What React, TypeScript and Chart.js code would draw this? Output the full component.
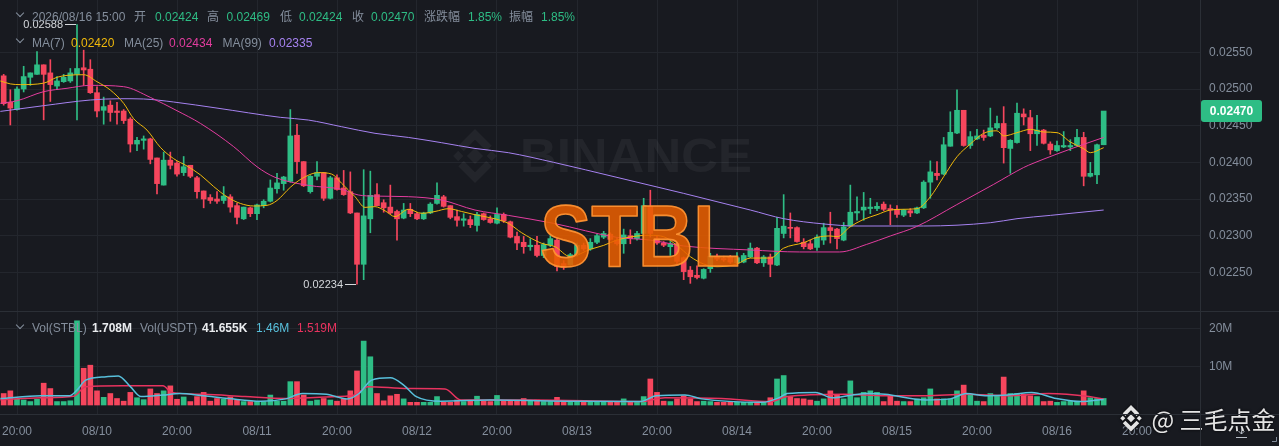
import React, { useEffect, useRef } from "react";
import { Chart, registerables } from "chart.js";

Chart.register(...registerables);

// Hourly candles. Hour index counted from 08/09 20:00 (index 0); first candle 08/09 18:00, last 08/16 15:00.
const FIRST_HOUR = -2;

// Prices in units of 0.00001
const open = [
  2518, 2482, 2472, 2500, 2516, 2520, 2533, 2522, 2504, 2510,
  2511, 2520, 2529, 2527, 2495, 2471, 2478, 2470, 2470, 2459,
  2425, 2430, 2432, 2406, 2369, 2403, 2399, 2386, 2396, 2379,
  2361, 2352, 2350, 2348, 2353, 2341, 2323, 2338, 2330, 2341,
  2347, 2364, 2371, 2374, 2437, 2401, 2360, 2381, 2386, 2351,
  2379, 2365, 2360, 2331, 2261, 2323, 2356, 2345, 2339, 2333,
  2324, 2336, 2330, 2323, 2331, 2344, 2353, 2341, 2326, 2321,
  2322, 2314, 2330, 2323, 2317, 2329, 2319, 2299, 2291, 2285,
  2287, 2273, 2287, 2294, 2262, 2260, 2274, 2287, 2282, 2291,
  2298, 2302, 2294, 2289, 2300, 2296, 2303, 2340, 2296, 2290,
  2285, 2289, 2270, 2253, 2246, 2242, 2255, 2272, 2269, 2271,
  2263, 2264, 2271, 2283, 2263, 2271, 2260, 2303, 2311, 2311,
  2291, 2289, 2284, 2294, 2311, 2309, 2294, 2313, 2331, 2335,
  2337, 2337, 2343, 2337, 2336, 2328, 2334, 2331, 2338, 2373,
  2385, 2384, 2422, 2440, 2471, 2423, 2432, 2437, 2436, 2447,
  2453, 2419, 2427, 2466, 2461, 2439, 2444, 2425, 2416, 2421,
  2421, 2423, 2434, 2381, 2383, 2424,
];
const high = [
  2520, 2499, 2503, 2531, 2522, 2551, 2533, 2540, 2517, 2520,
  2528, 2588, 2553, 2540, 2503, 2489, 2484, 2482, 2472, 2461,
  2434, 2436, 2433, 2406, 2414, 2414, 2401, 2408, 2396, 2381,
  2361, 2356, 2360, 2367, 2356, 2344, 2339, 2339, 2343, 2349,
  2376, 2385, 2381, 2472, 2452, 2401, 2382, 2401, 2386, 2381,
  2383, 2389, 2387, 2331, 2390, 2388, 2371, 2349, 2369, 2335,
  2344, 2344, 2332, 2332, 2345, 2372, 2355, 2341, 2335, 2330,
  2327, 2332, 2331, 2327, 2338, 2331, 2320, 2305, 2299, 2296,
  2299, 2290, 2300, 2296, 2266, 2276, 2290, 2290, 2296, 2302,
  2306, 2304, 2297, 2309, 2308, 2306, 2351, 2362, 2299, 2292,
  2292, 2290, 2271, 2258, 2259, 2255, 2276, 2275, 2272, 2273,
  2277, 2276, 2290, 2284, 2273, 2275, 2325, 2356, 2331, 2312,
  2296, 2294, 2301, 2317, 2332, 2310, 2318, 2369, 2353, 2359,
  2351, 2345, 2346, 2342, 2341, 2336, 2337, 2339, 2375, 2402,
  2401, 2434, 2469, 2499, 2471, 2442, 2445, 2444, 2474, 2463,
  2476, 2431, 2481, 2473, 2471, 2464, 2445, 2428, 2429, 2442,
  2431, 2445, 2441, 2400, 2425, 2469,
];
const low = [
  2478, 2451, 2471, 2496, 2505, 2520, 2458, 2483, 2499, 2509,
  2509, 2458, 2505, 2494, 2462, 2452, 2456, 2452, 2453, 2414,
  2416, 2418, 2398, 2357, 2369, 2391, 2381, 2382, 2379, 2351,
  2338, 2344, 2344, 2344, 2332, 2316, 2322, 2326, 2322, 2338,
  2346, 2358, 2362, 2373, 2385, 2367, 2358, 2376, 2348, 2350,
  2362, 2355, 2330, 2234, 2240, 2304, 2341, 2332, 2330, 2294,
  2323, 2326, 2322, 2322, 2330, 2343, 2339, 2323, 2313, 2313,
  2311, 2306, 2321, 2317, 2316, 2318, 2297, 2281, 2276, 2280,
  2271, 2270, 2285, 2252, 2254, 2259, 2272, 2280, 2280, 2289,
  2296, 2294, 2287, 2276, 2289, 2294, 2295, 2298, 2288, 2285,
  2273, 2262, 2240, 2235, 2241, 2241, 2250, 2266, 2265, 2262,
  2261, 2263, 2270, 2262, 2258, 2244, 2259, 2297, 2297, 2291,
  2282, 2281, 2280, 2288, 2290, 2282, 2293, 2312, 2321, 2321,
  2330, 2334, 2334, 2315, 2325, 2326, 2326, 2330, 2337, 2351,
  2376, 2383, 2422, 2439, 2422, 2419, 2431, 2430, 2435, 2445,
  2399, 2385, 2426, 2451, 2416, 2423, 2425, 2411, 2415, 2420,
  2416, 2422, 2368, 2380, 2371, 2424,
];
const close = [
  2480, 2474, 2500, 2517, 2522, 2533, 2520, 2506, 2511, 2516,
  2522, 2528, 2526, 2495, 2470, 2476, 2468, 2468, 2457, 2425,
  2430, 2432, 2404, 2371, 2403, 2396, 2384, 2394, 2381, 2360,
  2350, 2348, 2347, 2354, 2339, 2325, 2339, 2330, 2342, 2347,
  2365, 2372, 2380, 2436, 2401, 2368, 2381, 2386, 2351, 2379,
  2363, 2356, 2331, 2261, 2327, 2355, 2341, 2338, 2331, 2323,
  2335, 2330, 2323, 2331, 2343, 2355, 2340, 2325, 2321, 2323,
  2315, 2329, 2322, 2318, 2329, 2320, 2298, 2290, 2285, 2287,
  2273, 2288, 2296, 2258, 2257, 2274, 2287, 2282, 2291, 2300,
  2303, 2295, 2289, 2301, 2296, 2303, 2341, 2303, 2290, 2287,
  2289, 2265, 2251, 2244, 2243, 2254, 2272, 2268, 2267, 2264,
  2270, 2273, 2283, 2263, 2271, 2261, 2310, 2313, 2310, 2292,
  2285, 2282, 2298, 2311, 2307, 2296, 2312, 2332, 2333, 2339,
  2339, 2340, 2336, 2335, 2329, 2335, 2331, 2338, 2373, 2387,
  2382, 2424, 2441, 2471, 2423, 2435, 2436, 2434, 2447, 2453,
  2420, 2430, 2467, 2462, 2439, 2444, 2426, 2417, 2423, 2423,
  2423, 2434, 2381, 2385, 2424, 2470,
];
// Volume (STBL), millions
const volumeM = [
  3.0, 3.7, 1.5, 1.3, 0.9, 1.5, 5.7, 4.3, 0.9, 0.9,
  1.1, 22, 9.6, 10.4, 3.7, 2.0, 3.0, 1.7, 1.0, 3.3,
  1.9, 1.4, 4.2, 3.0, 3.7, 5.0, 1.5, 2.1, 0.9, 2.2,
  3.3, 1.0, 1.7, 1.5, 2.1, 1.3, 0.9, 0.9, 0.9, 0.9,
  2.6, 1.0, 1.0, 6.1, 6.1, 2.6, 1.0, 1.3, 1.7, 1.3,
  1.0, 1.6, 3.7, 8.9, 16.7, 12.6, 3.0, 1.1, 2.4, 2.8,
  1.6, 0.7, 0.7, 0.7, 0.7, 2.2, 0.7, 0.7, 1.3, 0.9,
  1.0, 2.3, 1.0, 0.9, 2.5, 1.0, 1.0, 1.0, 1.7, 1.0,
  1.3, 0.9, 0.9, 2.0, 1.0, 0.9, 0.9, 0.9, 0.9, 0.9,
  0.7, 0.7, 0.7, 1.6, 0.7, 0.7, 2.2, 6.8, 3.3, 1.0,
  0.9, 1.6, 2.4, 1.6, 0.9, 1.0, 0.9, 0.7, 0.7, 0.7,
  0.7, 0.7, 0.7, 0.7, 0.7, 1.9, 6.8, 7.7, 2.2, 1.7,
  1.6, 1.3, 1.0, 1.6, 3.7, 2.6, 1.6, 6.3, 1.9, 3.3,
  3.7, 3.3, 0.9, 2.4, 1.0, 0.9, 0.9, 1.6, 1.9, 4.2,
  1.6, 1.6, 1.6, 3.7, 5.2, 2.6, 1.0, 0.9, 3.0, 2.4,
  7.3, 3.0, 3.0, 2.8, 2.4, 2.2, 0.9, 1.0, 0.7, 0.9,
  1.0, 1.0, 3.7, 1.9, 1.7, 1.708,
];

const timeTickHours = [0, 12, 24, 36, 48, 60, 72, 84, 96, 108, 120, 132, 144, 156, 168];
const timeTickLabels = ["20:00", "08/10", "20:00", "08/11", "20:00", "08/12", "20:00", "08/13", "20:00", "08/14", "20:00", "08/15", "20:00", "08/16", "20:00"];
const priceTicks = [2250, 2300, 2350, 2400, 2450, 2500, 2550];
const volumeTicks = [10, 20];

// Moving-average lines: [hour, value]
const ma7 = [
  [-2.5, 2511], [-1, 2507], [0.5, 2506], [4, 2508], [6, 2516], [7.5, 2518.6], [10, 2519.5], [12, 2510],
  [14, 2498.6], [16, 2480.5], [17.5, 2459.5], [19.5, 2444], [21.5, 2420.5], [23.5, 2405], [25.5, 2395],
  [27.5, 2383], [29.5, 2367], [31.5, 2353], [33.5, 2344], [35.5, 2340.5], [37.5, 2341.4], [39, 2348],
  [41, 2366], [42.7, 2377.7], [45.2, 2386], [47.2, 2384], [48.7, 2371.4], [50.7, 2353.2], [52.2, 2338.6],
  [53.7, 2339.6], [55.2, 2334], [56.7, 2326], [58.7, 2336], [60.7, 2330.5], [62.7, 2333], [64.7, 2336.8],
  [66.7, 2333], [68.7, 2328.6], [71.7, 2323], [73.7, 2316.8], [75.7, 2304], [78.7, 2289.6], [80.7, 2285],
  [83, 2271.4], [86, 2281.4], [88, 2286.8], [90, 2294], [93, 2299.6], [95, 2300.5], [97, 2298.6],
  [99, 2286.8], [101, 2271.4], [103, 2261.4], [105, 2257.7], [108, 2261.4], [110, 2269.5], [113, 2269.5],
  [115, 2283], [118, 2290.5], [120, 2297.7], [122, 2299.6], [123, 2298.6], [125, 2312.3], [127, 2322.3],
  [129, 2328.6], [131, 2335], [133, 2336], [135, 2336.8], [137, 2353], [139, 2380.5], [141, 2407.7],
  [143, 2425], [145, 2439.6], [147, 2443], [148, 2436], [150, 2440.5], [152, 2445], [154, 2441.4],
  [156, 2440.5], [158, 2427.7], [160, 2418.6], [161, 2413.2], [163, 2420],
];
const ma25 = [
  [-2.5, 2480.5], [0, 2484], [4, 2496.4], [7.5, 2501], [11, 2505], [16, 2503.2], [20, 2488.6], [24, 2470.4],
  [27.5, 2453.2], [32.5, 2421.4], [36, 2394], [38.7, 2379.6], [43.7, 2368.6], [48.7, 2363.2], [51.2, 2355.5],
  [53.7, 2354], [58.7, 2353.2], [63.7, 2348.6], [68.7, 2335], [73.7, 2327.7], [80.5, 2316.8], [90, 2297.7],
  [95, 2294], [100, 2286], [110, 2280.5], [117.4, 2277.8], [123.4, 2277.8], [127.4, 2288], [131, 2299.6],
  [134.9, 2312.3], [140.9, 2342], [146.5, 2370], [151, 2393], [152.4, 2398.6], [156, 2411.4], [159, 2421.4],
  [163, 2434],
];
const ma99 = [
  [-2.5, 2469.5], [4, 2477.3], [11, 2485], [15.5, 2486.8], [19, 2486.4], [23.5, 2482.3], [30, 2474],
  [39.5, 2461.4], [43.7, 2457.7], [48.7, 2448.6], [53.7, 2439.6], [58.7, 2434], [63.7, 2426.8], [68.7, 2419],
  [73.7, 2413.2], [80.5, 2400], [90, 2379.5], [100, 2357.7], [110, 2335], [115, 2323.2], [121, 2316],
  [126, 2313.2], [136, 2313.2], [146, 2317.7], [150, 2323.2], [155, 2327.7], [163, 2335],
];
const volMa5 = [
  [-2.5, 1.7], [3.6, 2.4], [7.9, 2.4], [9, 3.9], [10.3, 6.5], [13.4, 7.4], [15.2, 7.6], [17, 4.8], [18.6, 2.2],
  [21.9, 2.6], [24.4, 3.0], [28, 2.4], [31.7, 1.7], [36.6, 1.0], [40.3, 1.6], [42.8, 3.0], [46.4, 2.8],
  [49.5, 1.6], [51.3, 3.0], [53.2, 6.5], [56, 7.1], [58, 5.2], [59.9, 2.2], [63.6, 1.0], [70.9, 1.3],
  [83.2, 1.0], [93.5, 0.9], [95.9, 2.4], [100.2, 2.6], [102.7, 1.6], [111.8, 0.7], [114.3, 1.9], [115.5, 3.0],
  [119.8, 3.3], [122.3, 1.9], [125.3, 2.6], [127.8, 3.0], [130.2, 2.8], [136.3, 1.3], [140, 1.6], [142.4, 3.0],
  [145.5, 2.4], [148.6, 2.6], [152.2, 3.3], [155.9, 1.7], [159.6, 0.9], [163, 1.46],
];
const volMa10 = [
  [-2.5, 1.4], [3.6, 1.9], [8.5, 2.3], [10.3, 4.8], [15.8, 5.0], [21.9, 5.0], [23.2, 3.3], [28, 2.8],
  [34.2, 2.2], [40.3, 1.7], [46.4, 2.1], [50.7, 2.6], [52.6, 4.8], [58.7, 4.3], [64.2, 4.2], [66.6, 1.3],
  [77, 1.3], [93.5, 0.9], [97.2, 1.9], [105.7, 1.7], [113, 0.9], [115.5, 2.2], [124, 2.8], [130.2, 2.4],
  [136.3, 2.4], [142.4, 2.8], [148.6, 2.4], [154.7, 3.0], [160.8, 2.2], [163, 1.52],
];

// ---------- styling ----------
const BG = "#181a20";
const GRID = "#23262d";
const LINE = "#2b2f36";
const GREY = "#848e9c";
const UP = "#2ebd85";
const DOWN = "#f6465d";
const C_MA7 = "#f0b90b";
const C_MA25 = "#e33d9f";
const C_MA99 = "#a682f0";
const C_VMA5 = "#58c0dc";
const C_VMA10 = "#e8335f";
const FONT = "'Liberation Sans', Arial, 'Noto Sans CJK SC', sans-serif";
const CJK = "'Noto Sans CJK SC', 'Liberation Sans', sans-serif";

const X_MIN = -2.55;
const X_MAX = 177.45;
const P_MIN = 2197.3;
const P_MAX = 2621.4;
const V_MIN = -2.35;
const V_MAX = 24.3;

const fmt = (v: number) => (v / 100000).toFixed(5);
const hours = open.map((_, i) => FIRST_HOUR + i);
const candleColors = hours.map((_, i) => (close[i] >= open[i] ? UP : DOWN));
const pts = (arr: number[][]) => arr.map(([x, y]) => ({ x, y }));

function drawLogo(ctx: CanvasRenderingContext2D, cx: number, cy: number, s: number) {
  const dia = (x: number, y: number, r: number) => {
    ctx.moveTo(cx + x * s, cy + (y - r) * s);
    ctx.lineTo(cx + (x + r) * s, cy + y * s);
    ctx.lineTo(cx + x * s, cy + (y + r) * s);
    ctx.lineTo(cx + (x - r) * s, cy + y * s);
    ctx.closePath();
  };
  const chev = (sg: number) => {
    ctx.moveTo(cx, cy - sg * s);
    ctx.lineTo(cx + 0.62 * s, cy - sg * 0.38 * s);
    ctx.lineTo(cx + 0.42 * s, cy - sg * 0.18 * s);
    ctx.lineTo(cx, cy - sg * 0.6 * s);
    ctx.lineTo(cx - 0.42 * s, cy - sg * 0.18 * s);
    ctx.lineTo(cx - 0.62 * s, cy - sg * 0.38 * s);
    ctx.closePath();
  };
  ctx.beginPath();
  dia(0, 0, 0.3);
  dia(-0.62, 0, 0.19);
  dia(0.62, 0, 0.19);
  chev(1);
  chev(-1);
}

function fitText(ctx: CanvasRenderingContext2D, text: string, l: number, t: number, r: number, b: number, fill: string, stroke?: string) {
  ctx.save();
  ctx.font = `bold 100px ${FONT}`;
  ctx.textAlign = "left";
  ctx.textBaseline = "alphabetic";
  const m = ctx.measureText(text);
  const w = m.actualBoundingBoxLeft + m.actualBoundingBoxRight;
  const h = m.actualBoundingBoxAscent + m.actualBoundingBoxDescent;
  const sx = (r - l) / w;
  const sy = (b - t) / h;
  ctx.translate(l, t);
  ctx.scale(sx, sy);
  ctx.fillStyle = fill;
  ctx.fillText(text, m.actualBoundingBoxLeft, m.actualBoundingBoxAscent);
  if (stroke) {
    ctx.strokeStyle = stroke;
    ctx.lineJoin = "round";
    ctx.lineWidth = 1.6 / ((sx + sy) / 2);
    ctx.strokeText(text, m.actualBoundingBoxLeft, m.actualBoundingBoxAscent);
  }
  ctx.restore();
}

function timeScale(showLabels: boolean, height: number) {
  return {
    type: "linear",
    min: X_MIN,
    max: X_MAX,
    offset: false,
    grid: { color: GRID, drawTicks: false, offset: false, lineWidth: 1 },
    border: { display: false },
    ticks: {
      display: showLabels,
      color: GREY,
      font: { family: FONT, size: 12 },
      padding: 10,
      autoSkip: false,
      maxRotation: 0,
      callback: (v: number) => {
        const i = timeTickHours.indexOf(v);
        return i >= 0 ? timeTickLabels[i] : "";
      },
    },
    afterBuildTicks: (s: any) => {
      s.ticks = timeTickHours.map((v) => ({ value: v }));
    },
    afterFit: (s: any) => {
      s.height = height;
      s.paddingLeft = 0;
      s.paddingRight = 0;
    },
  };
}

const lineDs = (data: number[][], color: string, width: number, order: number) => ({
  type: "line",
  data: pts(data),
  borderColor: color,
  borderWidth: width,
  pointRadius: 0,
  fill: false,
  cubicInterpolationMode: "monotone",
  order,
});

const priceDecor = {
  id: "priceDecor",
  beforeDatasetsDraw(chart: any) {
    const ctx = chart.ctx as CanvasRenderingContext2D;
    ctx.save();
    ctx.fillStyle = "rgba(255,255,255,0.05)";
    drawLogo(ctx, 475, 156, 27);
    ctx.fill();
    ctx.restore();
    fitText(ctx, "BINANCE", 523, 138, 750, 172, "rgba(255,255,255,0.05)");
  },
  afterDatasetsDraw(chart: any) {
    const ctx = chart.ctx as CanvasRenderingContext2D;
    const { x, y } = chart.scales;
    let hi = 0;
    let lo = 0;
    high.forEach((v, i) => { if (v > high[hi]) hi = i; });
    low.forEach((v, i) => { if (v < low[lo]) lo = i; });
    const mark = (i: number, v: number) => {
      const px = x.getPixelForValue(hours[i]);
      const py = Math.round(y.getPixelForValue(v));
      ctx.save();
      ctx.strokeStyle = "#d5d8dc";
      ctx.lineWidth = 1;
      ctx.beginPath();
      ctx.moveTo(px - 12, py + 0.5);
      ctx.lineTo(px - 1, py + 0.5);
      ctx.stroke();
      ctx.fillStyle = "#d5d8dc";
      ctx.font = `11px ${FONT}`;
      ctx.textAlign = "right";
      ctx.textBaseline = "middle";
      ctx.fillText(fmt(v), px - 14, py + 0.5);
      ctx.restore();
    };
    mark(hi, high[hi]);
    mark(lo, low[lo]);
    fitText(ctx, "STBL", 541.7, 205, 738.3, 266.7, "rgba(232,94,0,0.87)", "rgba(255,146,50,0.95)");
  },
  afterDraw(chart: any) {
    const ctx = chart.ctx as CanvasRenderingContext2D;
    const { y } = chart.scales;
    const last = close[close.length - 1];
    const py = y.getPixelForValue(last);
    const left = chart.chartArea.right + 1;
    ctx.save();
    ctx.fillStyle = UP;
    ctx.beginPath();
    ctx.roundRect(left, py - 11, 61, 22, 3);
    ctx.fill();
    ctx.fillStyle = "#ffffff";
    ctx.font = `bold 12px ${FONT}`;
    ctx.textAlign = "center";
    ctx.textBaseline = "middle";
    ctx.fillText(fmt(last), left + 30.5, py + 0.5);
    ctx.restore();
  },
};

const volDecor = {
  id: "volDecor",
  afterDraw(chart: any) {
    const ctx = chart.ctx as CanvasRenderingContext2D;
    const oy = 312; // canvas top on the page
    ctx.save();
    // small UI icons at the bottom right
    ctx.strokeStyle = "#b7bdc6";
    ctx.lineWidth = 1;
    ctx.beginPath();
    ctx.moveTo(1241.5, 428 - oy);
    ctx.lineTo(1241.5, 434 - oy);
    ctx.moveTo(1238.5, 431 - oy);
    ctx.lineTo(1241.5, 434 - oy);
    ctx.lineTo(1244.5, 431 - oy);
    ctx.moveTo(1236, 437.5 - oy);
    ctx.lineTo(1247, 437.5 - oy);
    ctx.stroke();
    ctx.strokeStyle = GREY;
    ctx.beginPath();
    ctx.moveTo(1272, 441.5 - oy);
    ctx.lineTo(1276.5, 441.5 - oy);
    ctx.lineTo(1276.5, 437 - oy);
    ctx.stroke();
    // author watermark
    ctx.shadowColor = "rgba(0,0,0,0.9)";
    ctx.shadowBlur = 3;
    ctx.fillStyle = "#e4e4e4";
    drawLogo(ctx, 1131, 418.3 - oy, 13.3);
    ctx.fill();
    ctx.font = `24px ${CJK}`;
    ctx.textAlign = "left";
    ctx.textBaseline = "middle";
    ctx.fillText("@ 三毛点金", 1151.5, 420 - oy);
    ctx.restore();
  },
};

function Chevron({ vTop }: { vTop: number }) {
  return (
    <div
      style={{
        position: "absolute",
        left: 17.3,
        top: vTop - 3,
        width: 6,
        height: 6,
        boxSizing: "border-box",
        borderRight: `1.3px solid ${GREY}`,
        borderBottom: `1.3px solid ${GREY}`,
        transform: "rotate(45deg)",
      }}
    />
  );
}

function T({ x, cy, color, bold, children }: { x: number; cy: number; color: string; bold?: boolean; children: any }) {
  return (
    <span
      style={{
        position: "absolute",
        left: x,
        top: cy - 7,
        fontSize: 12,
        lineHeight: "14px",
        color,
        fontWeight: bold ? 700 : 400,
        whiteSpace: "nowrap",
        fontFamily: FONT,
      }}
    >
      {children}
    </span>
  );
}

export default function App() {
  const priceRef = useRef<HTMLCanvasElement>(null);
  const volRef = useRef<HTMLCanvasElement>(null);

  useEffect(() => {
    const priceChart = new Chart(priceRef.current as HTMLCanvasElement, {
      type: "bar",
      data: {
        datasets: [
          lineDs(ma7, C_MA7, 1, 0),
          lineDs(ma25, C_MA25, 1, 0),
          lineDs(ma99, C_MA99, 1, 0),
          {
            type: "bar",
            data: hours.map((h, i) => ({ x: h, y: [open[i], close[i]] })),
            backgroundColor: candleColors,
            barThickness: 5,
            minBarLength: 1,
            grouped: false,
            order: 1,
          },
          {
            type: "bar",
            data: hours.map((h, i) => ({ x: h, y: [low[i], high[i]] })),
            backgroundColor: candleColors,
            barThickness: 1,
            grouped: false,
            order: 2,
          },
        ] as any,
      },
      options: {
        animation: false,
        responsive: false,
        maintainAspectRatio: false,
        layout: { padding: 0 },
        events: [],
        plugins: { legend: { display: false }, tooltip: { enabled: false } },
        scales: {
          x: timeScale(false, 0) as any,
          y: {
            position: "right",
            min: P_MIN,
            max: P_MAX,
            grid: { color: GRID, drawTicks: false },
            border: { display: false },
            ticks: {
              color: GREY,
              font: { family: FONT, size: 12 },
              padding: 9,
              callback: (v: any) => fmt(Number(v)),
            },
            afterBuildTicks: (s: any) => {
              s.ticks = priceTicks.map((v) => ({ value: v }));
            },
            afterFit: (s: any) => {
              s.width = 79;
              s.paddingTop = 0;
              s.paddingBottom = 0;
            },
          } as any,
        },
      },
      plugins: [priceDecor],
    });

    const volChart = new Chart(volRef.current as HTMLCanvasElement, {
      type: "bar",
      data: {
        datasets: [
          lineDs(volMa5, C_VMA5, 1.5, 0),
          lineDs(volMa10, C_VMA10, 1.5, 0),
          {
            type: "bar",
            data: hours.map((h, i) => ({ x: h, y: volumeM[i] })),
            backgroundColor: candleColors,
            barThickness: 5,
            grouped: false,
            order: 1,
          },
        ] as any,
      },
      options: {
        animation: false,
        responsive: false,
        maintainAspectRatio: false,
        layout: { padding: 0 },
        events: [],
        plugins: { legend: { display: false }, tooltip: { enabled: false } },
        scales: {
          x: timeScale(true, 32) as any,
          y: {
            position: "right",
            min: V_MIN,
            max: V_MAX,
            grid: { color: GRID, drawTicks: false },
            border: { display: false },
            ticks: {
              color: GREY,
              font: { family: FONT, size: 12 },
              padding: 9,
              callback: (v: any) => `${v}M`,
            },
            afterBuildTicks: (s: any) => {
              s.ticks = volumeTicks.map((v) => ({ value: v }));
            },
            afterFit: (s: any) => {
              s.width = 79;
              s.paddingTop = 0;
              s.paddingBottom = 0;
            },
          } as any,
        },
      },
      plugins: [volDecor],
    });

    return () => {
      priceChart.destroy();
      volChart.destroy();
    };
  }, []);

  return (
    <div
      style={{
        position: "absolute",
        left: 0,
        top: 0,
        width: 1279,
        height: 446,
        background: BG,
        overflow: "hidden",
        fontFamily: FONT,
      }}
    >
      <canvas ref={priceRef} width={1279} height={311} style={{ position: "absolute", left: 0, top: 0, width: 1279, height: 311 }} />
      <div style={{ position: "absolute", left: 0, top: 311, width: 1279, height: 1, background: LINE }} />
      <canvas ref={volRef} width={1279} height={134} style={{ position: "absolute", left: 0, top: 312, width: 1279, height: 134 }} />
      <div style={{ position: "absolute", left: 0, top: 414, width: 1279, height: 1, background: LINE }} />
      <div style={{ position: "absolute", left: 1200, top: 0, width: 1, height: 446, background: LINE }} />

      <Chevron vTop={12.7} />
      <T x={32} cy={17} color={GREY}>2026/08/16 15:00</T>
      <T x={134} cy={17} color={GREY}>开</T>
      <T x={155} cy={17} color={UP}>0.02424</T>
      <T x={207} cy={17} color={GREY}>高</T>
      <T x={226.5} cy={17} color={UP}>0.02469</T>
      <T x={280} cy={17} color={GREY}>低</T>
      <T x={299} cy={17} color={UP}>0.02424</T>
      <T x={352} cy={17} color={GREY}>收</T>
      <T x={371} cy={17} color={UP}>0.02470</T>
      <T x={424} cy={17} color={GREY}>涨跌幅</T>
      <T x={468} cy={17} color={UP}>1.85%</T>
      <T x={509} cy={17} color={GREY}>振幅</T>
      <T x={541} cy={17} color={UP}>1.85%</T>

      <Chevron vTop={39.3} />
      <T x={32} cy={43} color={GREY}>MA(7)</T>
      <T x={71} cy={43} color={C_MA7}>{fmt(ma7[ma7.length - 1][1])}</T>
      <T x={124} cy={43} color={GREY}>MA(25)</T>
      <T x={169} cy={43} color={C_MA25}>{fmt(ma25[ma25.length - 1][1])}</T>
      <T x={222.5} cy={43} color={GREY}>MA(99)</T>
      <T x={269} cy={43} color={C_MA99}>{fmt(ma99[ma99.length - 1][1])}</T>

      <Chevron vTop={325} />
      <T x={32} cy={327.7} color={GREY}>Vol(STBL)</T>
      <T x={92} cy={327.7} color="#eaecef" bold>1.708M</T>
      <T x={140} cy={327.7} color={GREY}>Vol(USDT)</T>
      <T x={202} cy={327.7} color="#eaecef" bold>41.655K</T>
      <T x={256} cy={327.7} color={C_VMA5}>1.46M</T>
      <T x={297} cy={327.7} color={C_VMA10}>1.519M</T>
    </div>
  );
}
